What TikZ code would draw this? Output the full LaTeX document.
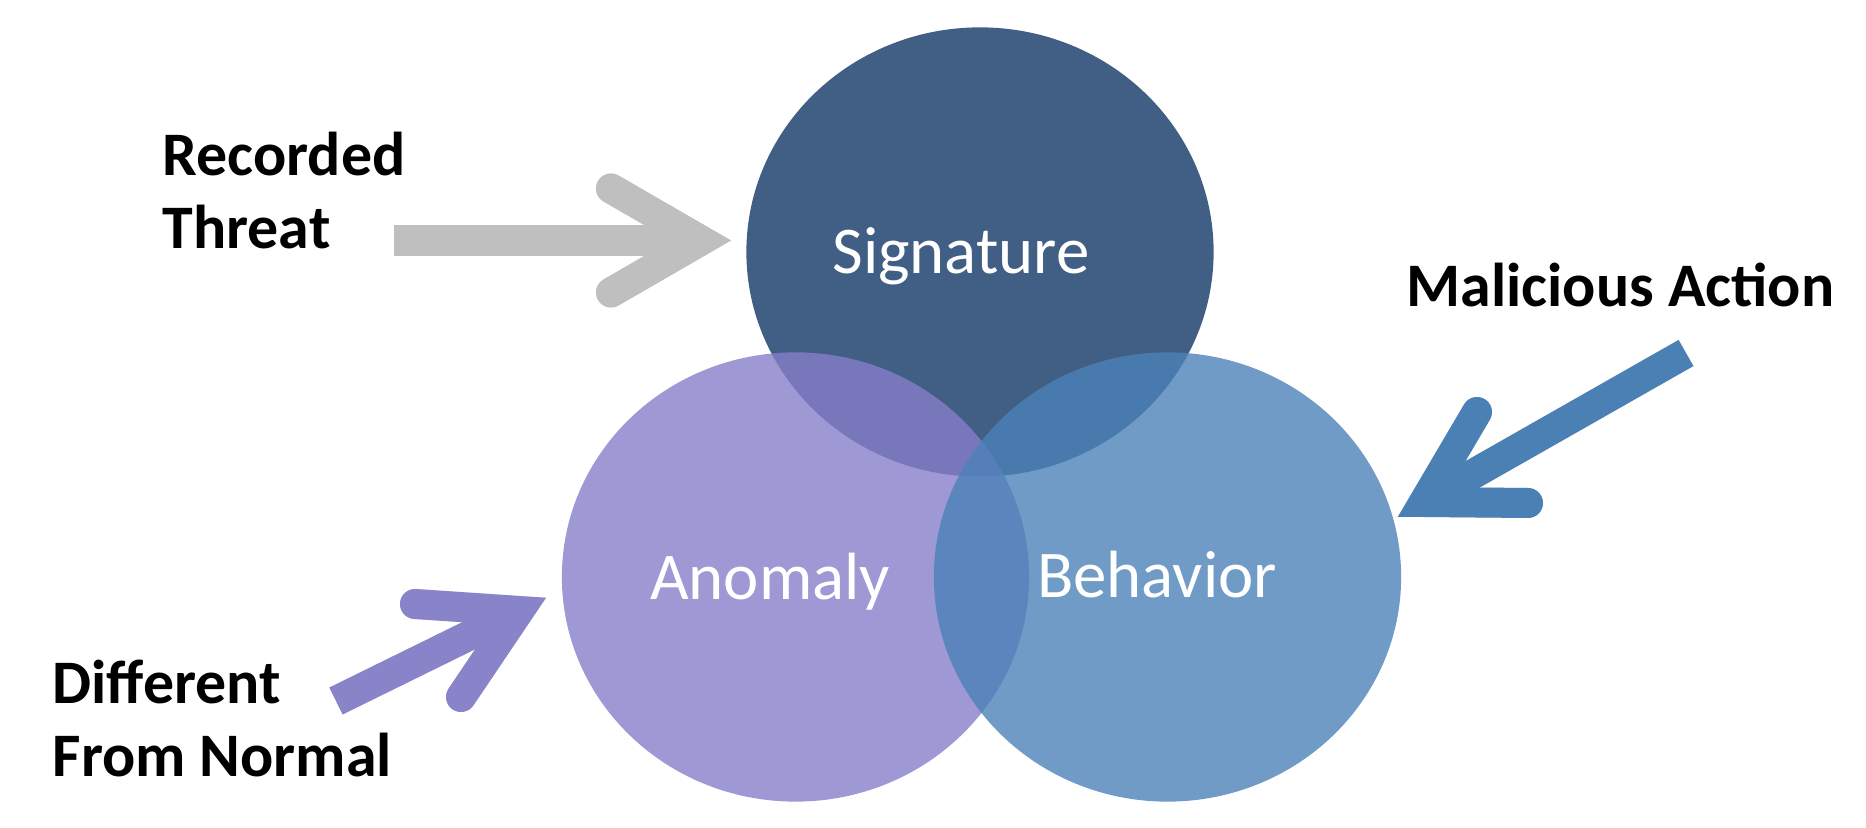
\documentclass[tikz,border=0pt]{standalone}
\usepackage{fontspec}
\setmainfont{Carlito}
\usetikzlibrary{positioning,shapes.geometric}
\definecolor{sigblue}{RGB}{65,94,132}
\definecolor{anompurple}{RGB}{134,126,201}
\definecolor{behblue}{RGB}{75,130,184}
\definecolor{arrowgray}{RGB}{191,191,191}
\definecolor{arrowpurple}{RGB}{137,131,202}
\definecolor{arrowblue}{RGB}{75,128,181}

\begin{document}
\begin{tikzpicture}[x=0.01cm,y=-0.01cm]
\tikzset{
venn/.style={ellipse, inner sep=0pt, minimum width=4.67cm, minimum height=4.49cm},
vennlabel/.style={text=white, font=\fontsize{19}{23}\selectfont, inner sep=0pt, anchor=base},
sidelabel/.style={font=\fontsize{17.6}{20.8}\selectfont\bfseries, align=left, inner sep=0pt, anchor=base west},
shaft/.style={line width=0.3cm},
barbs/.style={line width=0.3cm, line cap=round, line join=miter},
shade/.style={black, opacity=0.18, xshift=0.02cm, yshift=-0.03cm}
}
\useasboundingbox (0,0) rectangle (1866,828);

\node (sig) [venn, fill=sigblue] at (980,252) {};
\node (anom) [venn, fill=anompurple, fill opacity=0.8] at (795.5,577) {};
\node (beh) [venn, fill=behblue, fill opacity=0.8] at (1167.5,577) {};

\node (sigtext) [vennlabel] at (961,274) {Signature};
\node (anomtext) [vennlabel] at (770,600) {Anomaly};
\node (behtext) [vennlabel] at (1157,598) {Behavior};

\coordinate (g-tail) at (394,240.5);
\coordinate (g-head) at (701,240.5);
\coordinate (g-up) at (611,188.5);
\coordinate (g-down) at (611,292.5);
\coordinate (p-tail) at (336,701);
\coordinate (p-head) at (519,611);
\coordinate (p-up) at (415,604);
\coordinate (p-down) at (461,697);
\coordinate (b-tail) at (1686,353);
\coordinate (b-head) at (1424,502);
\coordinate (b-up) at (1477,412);
\coordinate (b-down) at (1528,503);

\foreach \a/\col in {g/arrowgray,p/arrowpurple,b/arrowblue}{
  \draw[shaft, shade] (\a-tail) -- (\a-head);
  \draw[barbs, shade] (\a-up) -- (\a-head) -- (\a-down);
  \draw[shaft, \col] (\a-tail) -- (\a-head);
  \draw[barbs, \col] (\a-up) -- (\a-head) -- (\a-down);
}

\node (rec) [sidelabel] at (162,249) {Recorded\\Threat};
\node (mal) [sidelabel] at (1406,307) {Malicious Action};
\node (diff) [sidelabel] at (52,777) {Different\\From Normal};
\end{tikzpicture}
\end{document}
